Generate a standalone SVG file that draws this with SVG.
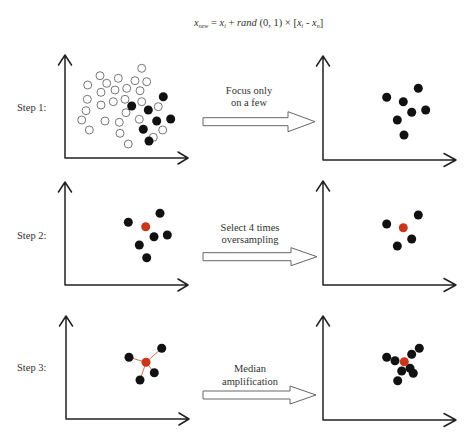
<svg xmlns="http://www.w3.org/2000/svg" width="474" height="444" viewBox="0 0 474 444">
<style>
.ax{fill:none;stroke:#222;stroke-width:1.5;stroke-linecap:round;stroke-linejoin:round}
.op{fill:#fff;stroke:#666;stroke-width:0.9}
.bk{fill:#111}
.rd{fill:#c8361c}
.ln{stroke:#d8703f;stroke-width:1}
.ha{fill:#fff;stroke:#666;stroke-width:1}
.t{font-family:"Liberation Serif",serif;font-size:10.5px;fill:#333}
.tc{text-anchor:middle}
</style>
<defs>
<g id="axes">
<path class="ax" d="M0,-103 V0 H123 M-6.5,-93 L0,-103 L6.5,-93 M113,-6 L123,0 L113,6"/>
</g>
<g id="axesR">
<path class="ax" d="M0,-104 V0 H133 M-6.5,-94 L0,-104 L6.5,-94 M121,-6.5 L133,0 L121,6.5"/>
</g>
</defs>

<text class="t" font-family="Liberation Serif, serif" x="194" y="26" font-style="italic">x<tspan font-size="6" dy="2">new</tspan><tspan dy="-2" font-style="normal"> = </tspan>x<tspan font-size="6" dy="2">i</tspan><tspan dy="-2" font-style="normal"> + </tspan>rand<tspan font-style="normal"> (0, 1) × [</tspan>x<tspan font-size="6" dy="2">i</tspan><tspan dy="-2" font-style="normal"> - </tspan>x<tspan font-size="6" dy="2">n</tspan><tspan dy="-2" font-style="normal">]</tspan></text>

<g id="labels" font-family="Liberation Serif, serif">
<text class="t" x="17" y="111">Step 1:</text>
<text class="t" x="17" y="239">Step 2:</text>
<text class="t" x="17" y="371">Step 3:</text>
</g>

<g id="step1-left">
<use href="#axes" x="65" y="158"/>
<circle class="op" cx="141.7" cy="68.3" r="4"/>
<circle class="op" cx="100" cy="75.7" r="4"/>
<circle class="op" cx="118.3" cy="78.3" r="4"/>
<circle class="op" cx="135" cy="80.7" r="4"/>
<circle class="op" cx="146.7" cy="81.7" r="4"/>
<circle class="op" cx="106.7" cy="83.3" r="4"/>
<circle class="op" cx="87.7" cy="85" r="4"/>
<circle class="op" cx="115" cy="90" r="4"/>
<circle class="op" cx="126.7" cy="88.3" r="4"/>
<circle class="op" cx="140" cy="90.7" r="4"/>
<circle class="op" cx="101" cy="92.3" r="4"/>
<circle class="op" cx="87.3" cy="99.3" r="4"/>
<circle class="op" cx="113.3" cy="101.7" r="4"/>
<circle class="op" cx="125" cy="99.3" r="4"/>
<circle class="op" cx="141.7" cy="101.7" r="4"/>
<circle class="op" cx="101" cy="105" r="4"/>
<circle class="op" cx="86" cy="110.7" r="4"/>
<circle class="op" cx="126" cy="112.7" r="4"/>
<circle class="op" cx="158.3" cy="106.7" r="4"/>
<circle class="op" cx="81.7" cy="120" r="4"/>
<circle class="op" cx="105" cy="121" r="4"/>
<circle class="op" cx="119.3" cy="122.3" r="4"/>
<circle class="op" cx="139.3" cy="119.3" r="4"/>
<circle class="op" cx="89.3" cy="130" r="4"/>
<circle class="op" cx="120" cy="133.3" r="4"/>
<circle class="op" cx="162.7" cy="130" r="4"/>
<circle class="op" cx="153.3" cy="137.3" r="4"/>
<circle class="op" cx="128.3" cy="144" r="4"/>
<circle class="bk" cx="163.3" cy="96.7" r="4.5"/>
<circle class="bk" cx="131.7" cy="106" r="4.5"/>
<circle class="bk" cx="148.3" cy="110" r="4.5"/>
<circle class="bk" cx="156.7" cy="121" r="4.5"/>
<circle class="bk" cx="170.7" cy="119" r="4.5"/>
<circle class="bk" cx="143.3" cy="129.3" r="4.5"/>
<circle class="bk" cx="149" cy="141" r="4.5"/>
</g>

<g id="step1-arrow" font-family="Liberation Serif, serif">
<polygon class="ha" points="203,117.7 288,117.7 288,111.7 315,121.7 288,131.7 288,125.7 203,125.7"/>
<text class="t tc" x="249" y="93.5">Focus only</text>
<text class="t tc" x="249" y="106">on a few</text>
</g>

<g id="step1-right">
<use href="#axesR" x="323" y="160"/>
<circle class="bk" cx="418.3" cy="88.3" r="4.5"/>
<circle class="bk" cx="386.7" cy="97.3" r="4.5"/>
<circle class="bk" cx="403.3" cy="101.7" r="4.5"/>
<circle class="bk" cx="411.7" cy="112.3" r="4.5"/>
<circle class="bk" cx="425.7" cy="110" r="4.5"/>
<circle class="bk" cx="397.3" cy="120" r="4.5"/>
<circle class="bk" cx="404" cy="135" r="4.5"/>
</g>

<g id="step2-left">
<use href="#axes" x="65" y="285"/>
<circle class="bk" cx="160" cy="213.3" r="4.5"/>
<circle class="bk" cx="128.3" cy="222.3" r="4.5"/>
<circle class="rd" cx="145.7" cy="226.7" r="4.5"/>
<circle class="bk" cx="154" cy="236.7" r="4.5"/>
<circle class="bk" cx="167.3" cy="235" r="4.5"/>
<circle class="bk" cx="139.3" cy="245" r="4.5"/>
<circle class="bk" cx="146.7" cy="257.7" r="4.5"/>
</g>

<g id="step2-arrow" font-family="Liberation Serif, serif">
<polygon class="ha" points="203,252.7 291,252.7 291,247.7 317,256.7 291,265.7 291,260.7 203,260.7"/>
<text class="t tc" x="250" y="231">Select 4 times</text>
<text class="t tc" x="250" y="243">oversampling</text>
</g>

<g id="step2-right">
<use href="#axesR" x="323" y="285"/>
<circle class="bk" cx="418.3" cy="215" r="4.5"/>
<circle class="bk" cx="386.7" cy="224" r="4.5"/>
<circle class="rd" cx="403.3" cy="227.7" r="4.5"/>
<circle class="bk" cx="411.7" cy="239" r="4.5"/>
<circle class="bk" cx="397.3" cy="246" r="4.5"/>
</g>

<g id="step3-left">
<use href="#axes" x="66" y="419"/>
<g class="ln">
<line x1="146" y1="362.3" x2="161.7" y2="348.3"/>
<line x1="146" y1="362.3" x2="129" y2="357.3"/>
<line x1="146" y1="362.3" x2="154.3" y2="372.7"/>
<line x1="146" y1="362.3" x2="140" y2="380"/>
</g>
<circle class="bk" cx="161.7" cy="348.3" r="4.5"/>
<circle class="bk" cx="129" cy="357.3" r="4.5"/>
<circle class="bk" cx="154.3" cy="372.7" r="4.5"/>
<circle class="bk" cx="140" cy="380" r="4.5"/>
<circle class="rd" cx="146" cy="362.3" r="4.5"/>
</g>

<g id="step3-arrow" font-family="Liberation Serif, serif">
<polygon class="ha" points="203,391 290,391 290,386 316,395 290,404 290,399 203,399"/>
<text class="t tc" x="250" y="372">Median</text>
<text class="t tc" x="250" y="385">amplification</text>
</g>

<g id="step3-right">
<use href="#axesR" x="323" y="420"/>
<circle class="bk" cx="419.3" cy="348.3" r="4.5"/>
<circle class="bk" cx="411.7" cy="354.3" r="4.5"/>
<circle class="bk" cx="386.7" cy="357.3" r="4.5"/>
<circle class="bk" cx="395" cy="360.7" r="4.5"/>
<circle class="bk" cx="401.7" cy="371" r="4.5"/>
<circle class="bk" cx="410" cy="368.3" r="4.5"/>
<circle class="bk" cx="413.3" cy="373.3" r="4.5"/>
<circle class="bk" cx="397.7" cy="380.7" r="4.5"/>
<circle class="rd" cx="404.3" cy="361.7" r="4.5"/>
</g>
</svg>
